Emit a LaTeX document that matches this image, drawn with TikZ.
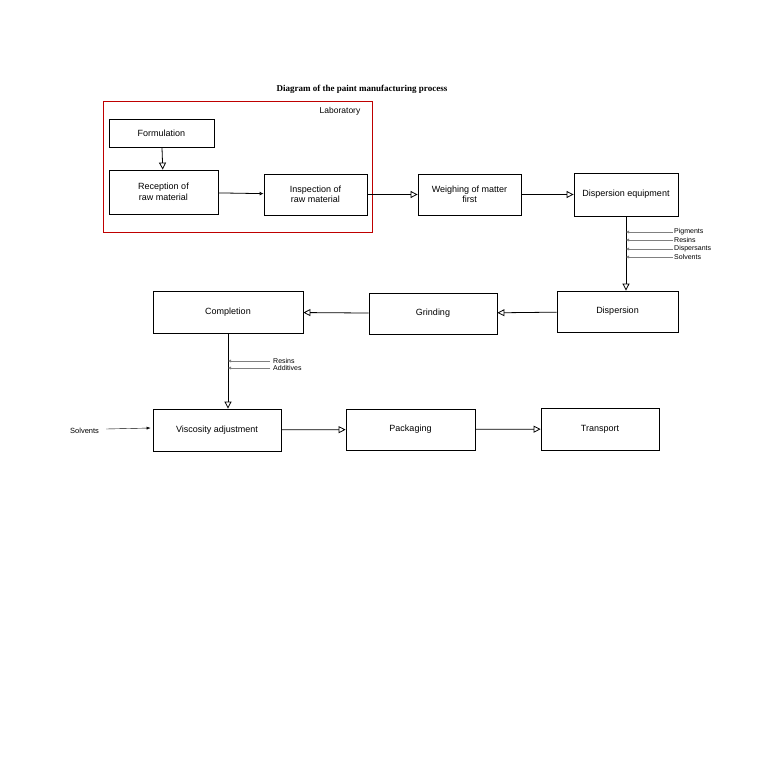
\documentclass[tikz,border=0pt]{standalone}
\usepackage{fontspec}
\setmainfont{Liberation Sans}
\newfontfamily\titlefont{Liberation Serif}
\usetikzlibrary{arrows.meta,positioning,calc}

\begin{document}
\begin{tikzpicture}[x=1pt,y=-1pt,
    stage/.style={draw, thick, minimum height=42pt, align=center, font=\fontsize{9}{10.5}\selectfont},
    flow/.style={thick, -{Triangle[open,length=7pt,width=7pt]}},
    feed/.style={thin, gray, -{Latex[length=3pt,width=3pt]}},
    feedlbl/.style={font=\fontsize{7}{7}\selectfont, anchor=west, inner sep=1pt}]
  \useasboundingbox (0,0) rectangle (768,762);
  % Title and laboratory frame
  \node[font=\titlefont\bfseries\fontsize{9}{10}\selectfont] (title) at (362,89) {Diagram of the paint manufacturing process};
  \draw[red!75!black, thick] (103,101) rectangle (372,232);
  \node[font=\fontsize{8.5}{10}\selectfont] (lab) at (340,111) {Laboratory};
  % Steps
  \node[stage, minimum width=105pt, minimum height=28pt] (form) at (161.5,133) {Formulation};
  \node[stage, minimum width=109pt, minimum height=44pt] (recep) at (163.5,192) {Reception of\\raw material};
  \node[stage, minimum width=103pt, minimum height=41pt] (insp) at (315.5,194.5) {Inspection of\\raw material};
  \node[stage, minimum width=103pt, minimum height=41pt] (weigh) at (469.5,194.5) {Weighing of matter\\first};
  \node[stage, minimum width=104pt, minimum height=43pt] (deq) at (626,194.5) {Dispersion equipment};
  \node[stage, minimum width=121pt, minimum height=41pt] (disp) at (617.5,311.5) {Dispersion};
  \node[stage, minimum width=128pt, minimum height=41pt] (grind) at (433,313.5) {Grinding};
  \node[stage, minimum width=150pt, minimum height=42pt] (compl) at (228,312) {Completion};
  \node[stage, minimum width=128pt, minimum height=42pt] (visc) at (217,430) {Viscosity adjustment};
  \node[stage, minimum width=129pt, minimum height=41pt] (pack) at (410.5,429.5) {Packaging};
  \node[stage, minimum width=118pt, minimum height=42pt] (trans) at (600,429) {Transport};
  % Main flow
  \draw[flow] (form) -- (recep);
  \draw[thick, -{Latex[open,length=4pt,width=4pt]}] (recep) -- (insp);
  \draw[flow] (insp) -- (weigh);
  \draw[flow] (weigh) -- (deq);
  \draw[flow] (deq.south) -- (deq.south |- disp.north);
  \draw[flow] (disp) -- (grind);
  \draw[flow] (grind) -- (compl);
  \draw[flow] (compl) -- (compl.south |- visc.north);
  \draw[flow] (visc) -- (pack);
  \draw[flow] (pack) -- (trans);
  % Feed-in materials
  \foreach \name/\txt/\y in {pig/Pigments/232, res/Resins/240, dsp/Dispersants/249, sol/Solvents/257}{
    \node[feedlbl] (\name) at (673,\y) {\txt};
    \draw[feed] (\name.west) -- (\name.west -| deq.south);
  }
  \foreach \name/\txt/\y in {resb/Resins/361, add/Additives/368}{
    \node[feedlbl] (\name) at (272,\y) {\txt};
    \draw[feed] ($(\name.west)-(2,0)$) -- (\name.west -| compl.south);
  }
  \node[feedlbl, font=\fontsize{7.5}{8}\selectfont] (solv) at (69,431) {Solvents};
  \draw[thin, -{Latex[length=4pt,width=3pt]}] ($(solv.east)+(6,-2)$) -- ($(visc.west)+(-2,-2)$);
\end{tikzpicture}
\end{document}
